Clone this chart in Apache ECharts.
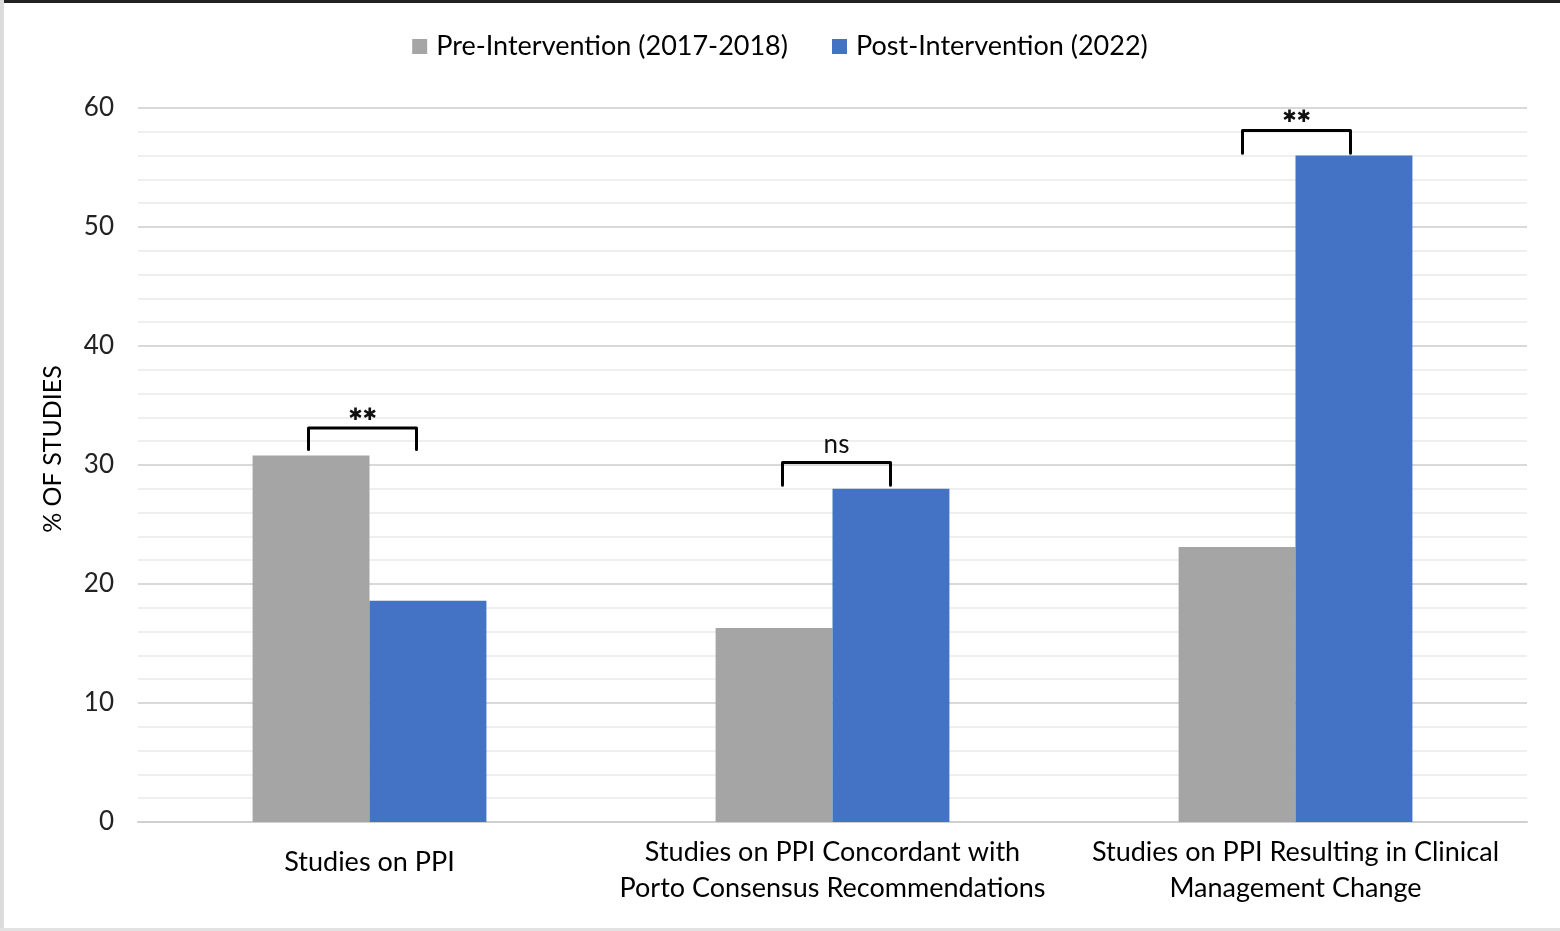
<!DOCTYPE html>
<html>
<head>
<meta charset="utf-8">
<script src="https://cdn.jsdelivr.net/npm/echarts@6/dist/echarts.min.js"></script>
<style>
html,body{margin:0;padding:0;background:#fff;}
#chart{width:1560px;height:931px;}
</style>
</head>
<body>
<div id="chart"></div>
<script>
const categories = [
  'Studies on PPI',
  'Studies on PPI Concordant with\nPorto Consensus Recommendations',
  'Studies on PPI Resulting in Clinical\nManagement Change'
];
const seriesNames = ['Pre-Intervention (2017-2018)', 'Post-Intervention (2022)'];
const preValues = [30.8, 16.3, 23.1];
const postValues = [18.6, 28.0, 56.0];
const yTicks = [0, 10, 20, 30, 40, 50, 60];
const bracketTop = [33.1, 30.2, 58.1];
const bracketLeg = [31.3, 28.3, 56.2];
const bracketLabels = ['**', 'ns', '**'];

const FONT = 'Lato';
const chart = echarts.init(document.getElementById('chart'), null, {renderer: 'canvas'});

// pixel offsets of bracket ends relative to category centre (layout only)
const bracketSpan = [[-61, 47], [-50, 58], [-53, 55]];

const option = {
  backgroundColor: '#fff',
  animation: false,
  textStyle: {fontFamily: FONT},
  legend: {
    top: 28,
    left: 'center',
    itemWidth: 15,
    itemHeight: 15,
    itemGap: 44,
    icon: 'rect',
    textStyle: {fontSize: 27, color: '#000', fontFamily: FONT, padding: [0, 0, 0, 4]},
    data: seriesNames
  },
  grid: {left: 138, right: 33, top: 108, bottom: 109, containLabel: false},
  xAxis: {
    type: 'category',
    data: categories.map((c, i) => i === 0 ? {value: c, textStyle: {padding: [10, 0, 0, 0]}} : c),
    axisTick: {show: false},
    axisLine: {lineStyle: {color: '#d0d0d0', width: 2}},
    axisLabel: {
      color: '#000', fontSize: 27, lineHeight: 36, margin: 12,
      fontFamily: FONT, interval: 0
    }
  },
  yAxis: {
    type: 'value',
    min: yTicks[0],
    max: yTicks[yTicks.length - 1],
    interval: 10,
    name: '% OF STUDIES',
    nameLocation: 'middle',
    nameGap: 73,
    nameTextStyle: {fontSize: 25, color: '#000', fontFamily: FONT, padding: [0, 0, 0, 32]},
    axisLine: {show: false},
    axisTick: {show: false},
    axisLabel: {color: '#222', fontSize: 26, margin: 24, fontFamily: FONT},
    splitLine: {lineStyle: {color: '#d9d9d9', width: 2}},
    minorTick: {show: false, splitNumber: 5},
    minorSplitLine: {show: true, lineStyle: {color: '#efefef', width: 2}}
  },
  series: [
    {
      name: seriesNames[0], type: 'bar', data: preValues,
      itemStyle: {color: '#a5a5a5'}, barGap: '0%', barCategoryGap: '49.5%'
    },
    {
      name: seriesNames[1], type: 'bar', data: postValues,
      itemStyle: {color: '#4472c4'}, barGap: '0%', barCategoryGap: '49.5%'
    },
    {
      type: 'custom',
      silent: true,
      z: 10,
      data: categories.map((c, i) => [i, bracketTop[i], bracketLeg[i]]),
      renderItem: function (params, api) {
        const i = api.value(0);
        const top = api.coord([i, api.value(1)]);
        const leg = api.coord([i, api.value(2)]);
        const span = bracketSpan[i];
        const x1 = top[0] + span[0], x2 = top[0] + span[1];
        const label = bracketLabels[i];
        const isStar = label === '**';
        return {
          type: 'group',
          children: [
            {
              type: 'polyline',
              shape: {points: [[x1, leg[1]], [x1, top[1]], [x2, top[1]], [x2, leg[1]]]},
              style: {stroke: '#000', lineWidth: 3, fill: null, lineJoin: 'round', lineCap: 'round'}
            },
            {
              type: 'text',
              style: {
                text: isStar ? '✱✱' : label,
                x: (x1 + x2) / 2,
                y: isStar ? top[1] - 13 : top[1] - 5,
                align: 'center',
                verticalAlign: isStar ? 'middle' : 'bottom',
                fontSize: isStar ? 17 : 26,
                fontFamily: isStar ? 'DejaVu Sans' : FONT,
                fill: '#111'
              }
            }
          ]
        };
      }
    }
  ],
  graphic: [
    {type: 'rect', shape: {x: 0, y: 0, width: 1560, height: 3}, style: {fill: '#222'}},
    {type: 'rect', shape: {x: 0, y: 0, width: 4, height: 931}, style: {fill: '#dcdcdc'}},
    {type: 'rect', shape: {x: 0, y: 928, width: 1560, height: 3}, style: {fill: '#e2e2e2'}}
  ]
};
chart.setOption(option);
</script>
</body>
</html>
